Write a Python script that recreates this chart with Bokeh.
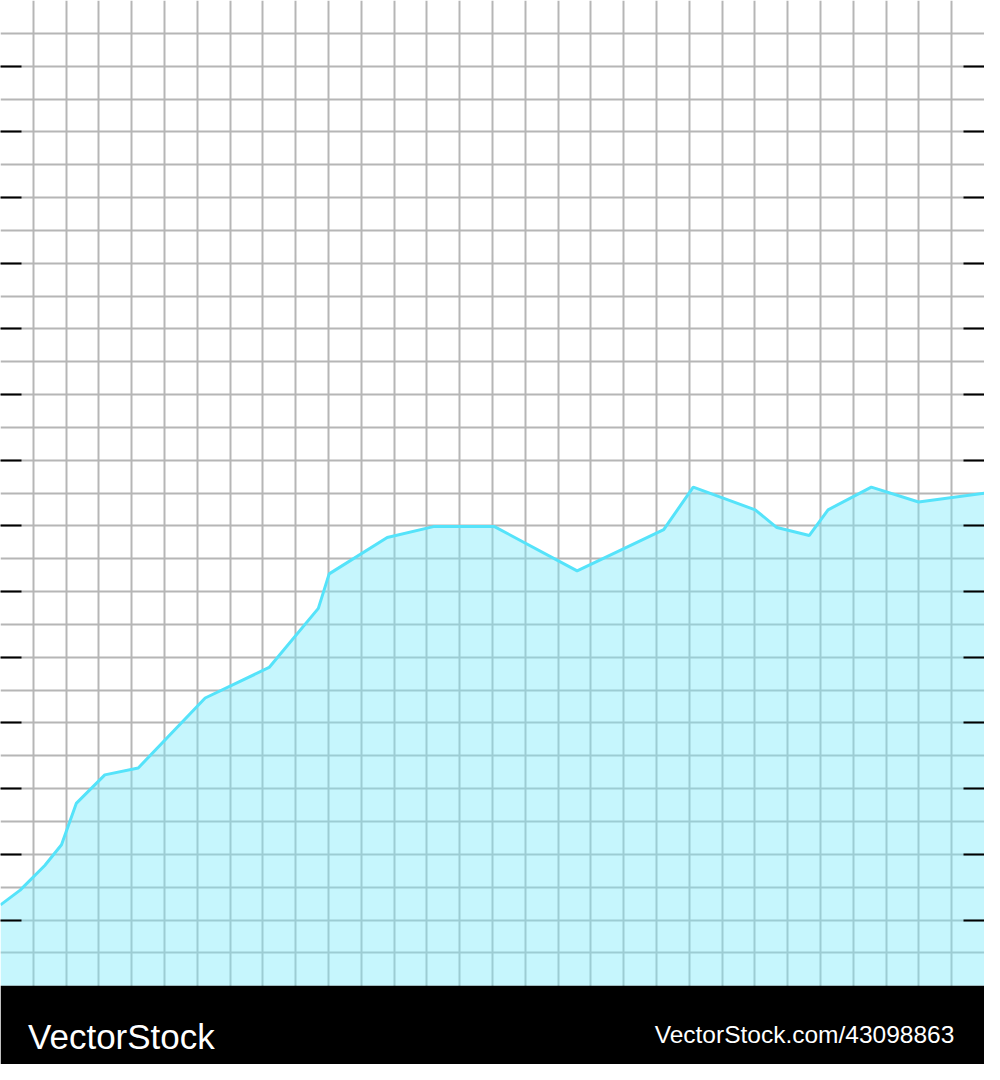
from bokeh.plotting import figure
from bokeh.models import FixedTicker, LinearAxis, BoxAnnotation, Label, Range1d
from bokeh.embed import file_html
from bokeh.resources import INLINE

# ---- data (grid units: 30 columns, 30 rows) ----
x_vals = [0, 0.6, 1.35, 1.86, 2.31, 3.18, 4.2, 6.24, 8.19, 9.69, 10.02, 11.79,
          13.2, 15.06, 17.58, 20.22, 21.12, 23.01, 23.67, 24.66, 25.23, 26.55,
          27.99, 30]
y_vals = [2.46, 2.91, 3.66, 4.29, 5.55, 6.42, 6.63, 8.76, 9.69, 11.49, 12.54,
          13.65, 13.98, 13.98, 12.63, 13.89, 15.18, 14.49, 13.95, 13.71, 14.49,
          15.18, 14.73, 15.0]
grid_ticks = list(range(1, 30))
axis_ticks = list(range(2, 30, 2))
brand = "VectorStock"
credit = "VectorStock.com/43098863"

p = figure(width=984, height=1064, x_range=Range1d(0, 30), y_range=Range1d(-2.4, 30),
           output_backend="svg", toolbar_location=None, min_border=0)
p.outline_line_color = None
p.background_fill_color = "white"
p.border_fill_color = "white"

p.xaxis.visible = False
p.xgrid.ticker = FixedTicker(ticks=grid_ticks)
p.ygrid.ticker = FixedTicker(ticks=grid_ticks)
for g in (p.xgrid[0], p.ygrid[0]):
    g.grid_line_color = "#b6b6b6"
    g.grid_line_width = 2

right_axis = LinearAxis()
p.add_layout(right_axis, "right")
for ax in (p.yaxis[0], right_axis):
    ax.ticker = FixedTicker(ticks=axis_ticks)
    ax.major_label_overrides = {t: "" for t in axis_ticks}
    ax.major_tick_in = 21
    ax.major_tick_out = 0
    ax.minor_tick_in = 0
    ax.minor_tick_out = 0
    ax.axis_line_color = None
    ax.major_tick_line_color = "black"
    ax.major_tick_line_width = 2
    ax.major_label_standoff = 0

p.varea(x=x_vals, y1=0, y2=y_vals, fill_color="#7bebfb", fill_alpha=0.43)
p.line(x=x_vals, y=y_vals, line_color="#55e3fa", line_width=3)

band = BoxAnnotation(top=0, fill_color="black", fill_alpha=1.0, line_color=None)
p.add_layout(band)

p.add_layout(Label(x=0.84, y=-1.56, text=brand,
                   text_font="Liberation Sans", text_font_size="35px",
                   text_color="white", text_baseline="alphabetic"))
p.add_layout(Label(x=29.08, y=-1.5, text=credit,
                   text_font="Liberation Sans", text_font_size="24.5px",
                   text_color="white", text_baseline="alphabetic", text_align="right"))

open("out.html", "w").write(file_html(p, INLINE))
